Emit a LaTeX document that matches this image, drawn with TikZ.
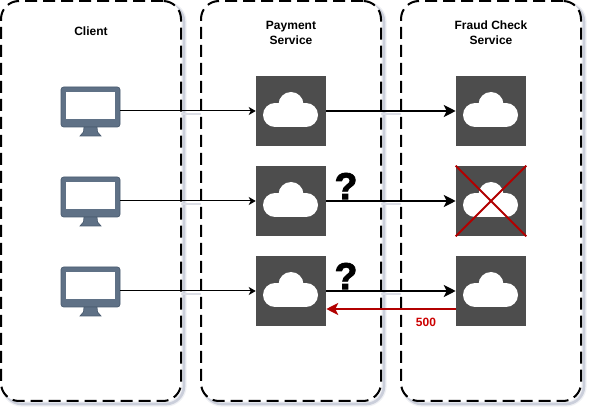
\documentclass[tikz,border=0pt]{standalone}
\usepackage{xcolor}
\usepackage{fontspec}
\setmainfont{Liberation Sans}
\newfontfamily\askfont[UprightFont=* Bold,UprightFeatures={FakeBold=2.5}]{Liberation Sans}
\usetikzlibrary{arrows.meta,backgrounds}
\definecolor{ink}{HTML}{000000}
\definecolor{slab}{HTML}{4D4D4D}
\definecolor{screen}{HTML}{5F7186}
\definecolor{screenedge}{HTML}{4A5C70}
\definecolor{alert}{HTML}{B20000}
\definecolor{alerttext}{HTML}{CC0000}
\definecolor{haze}{HTML}{AEB4C6}
\tikzset{
  lane/.style={draw=ink,fill=white,line width=1.5pt,rounded corners=13.5pt,dash pattern=on 9pt off 4.5pt,minimum width=135pt,minimum height=300pt},
  laneglow/.style={draw=haze,fill=none,rounded corners=13.5pt,minimum width=135pt,minimum height=300pt},
  lanetitle/.style={font=\bfseries\fontsize{9}{11.2}\selectfont,align=center,text=ink},
  cloudbox/.style={fill=slab,minimum size=52.5pt,inner sep=0pt},
  deskbox/.style={minimum width=44.25pt,minimum height=37.5pt,inner sep=0pt},
  thinwire/.style={draw=ink,line width=.75pt,-{Stealth[length=5.25pt,width=6pt,inset=1.5pt]}},
  thickwire/.style={draw=ink,line width=1.5pt,-{Stealth[length=9pt,width=9pt,inset=2.25pt]}},
  redwire/.style={draw=alert,line width=1.5pt,-{Stealth[length=9pt,width=9pt,inset=2.25pt]}},
  wireglow/.style={draw=haze!45,line width=1.5pt},
  crossline/.style={draw=alert,line width=1.5pt},
  asklabel/.style={font=\askfont\fontsize{28}{28}\selectfont,text=ink},
}
\newcommand{\cloudicon}[2]{
  \node[cloudbox] (#1) at (#2) {};
  \begin{scope}[shift={(#2)}]
    \fill[white] (-16,4) circle (12);
    \fill[white] (15,4) circle (12);
    \fill[white] (0,-6.5) circle (12.5);
    \fill[white] (-16,-8) rectangle (15,16);
  \end{scope}
}
\newcommand{\deskicon}[2]{
  \node[deskbox] (#1) at (#2) {};
  \begin{scope}[shift={(#2)}]
    \draw[fill=screen,draw=screenedge,line width=.5pt,rounded corners=2pt] (-29.5,-24) rectangle (29.5,16);
    \fill[white] (-24.5,-19) rectangle (24.5,8);
    \draw[fill=screen,draw=screenedge,line width=.5pt] (-6.5,16) -- (6.5,16) -- (7,21) -- (10.5,25) -- (-10.5,25) -- (-7,21) -- cycle;
  \end{scope}
}
\begin{document}
\begin{tikzpicture}[x=.75pt,y=-.75pt]
  \useasboundingbox (0,0) rectangle (593,413);
  % lanes
  \foreach \name/\xpos in {client/91,payment/291,fraud/491}{
    \node[lane] (\name) at (\xpos,201) {};
  }
  \node[lanetitle] (clienttitle) at (91,31.5) {Client};
  \node[lanetitle] (paymenttitle) at (291,33) {Payment\\Service};
  \node[lanetitle] (fraudtitle) at (491,33) {Fraud Check\\Service};
  % icons
  \foreach \row/\ypos in {a/111,b/201,c/291}{
    \deskicon{desk\row}{90.5,\ypos}
    \cloudicon{pay\row}{291,\ypos}
    \cloudicon{check\row}{491,\ypos}
  }
  % connectors
  \foreach \row in {a,b,c}{
    \draw[thinwire] (desk\row.east) -- (pay\row.west);
    \draw[thickwire] (pay\row.east) -- (check\row.west);
  }
  \draw[redwire] ([yshift=-13.5pt]checkc.west) -- ([yshift=-13.5pt]payc.east);
  \draw[crossline] (checkb.north west) -- (checkb.south east);
  \draw[crossline] (checkb.north east) -- (checkb.south west);
  % labels
  \node[asklabel] (askb) at (346,186) {?};
  \node[asklabel] (askc) at (346,276) {?};
  \node[font=\bfseries\fontsize{9}{11}\selectfont,text=alerttext] (code) at (426,322) {500};
  % soft shadows
  \begin{pgfonlayer}{background}
    \foreach \xpos in {91,291,491}{
      \node[laneglow,line width=4pt,draw opacity=.2] (glowo\xpos) at (\xpos+3,204) {};
      \node[laneglow,line width=2pt,draw opacity=.55] (glowi\xpos) at (\xpos+3,204) {};
    }
    \foreach \row in {a,b,c}{
      \draw[wireglow] ([yshift=-2.25pt]desk\row.east) -- ([yshift=-2.25pt]pay\row.west);
      \draw[wireglow] ([yshift=-2.25pt]pay\row.east) -- ([yshift=-2.25pt]check\row.west);
    }
  \end{pgfonlayer}
\end{tikzpicture}
\end{document}
